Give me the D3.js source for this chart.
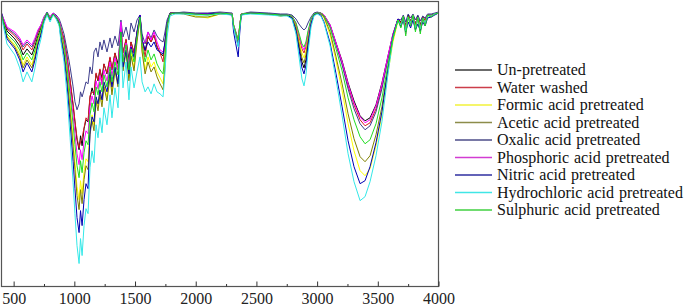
<!DOCTYPE html>
<html>
<head>
<meta charset="utf-8">
<script src="https://cdn.jsdelivr.net/npm/d3@7"></script>
<style>
  html, body { margin: 0; padding: 0; background: #fff; }
  svg { display: block; }
  text { font-family: "Liberation Serif", "Times New Roman", serif; }
</style>
</head>
<body>
<svg id="chart" width="685" height="306"></svg>
<script>
// Wavenumber (cm^-1) sampling grid
const wavenumbers = [400,445,510,550,578,610,650,676,700,725,750,775,800,825,850,875,
890,915,940,965,990,1005,1022,1039,1051,1064,1080,1096,1113,1129,1146,1162,1179,1195,1211,1228,1244,1269,1294,1310,1335,1360,1384,1401,1426,1450,1467,1492,1516,1541,1558,1583,1607,1632,1657,1681,1706,1731,1747,1764,1788,1830,
1900,2000,2100,2200,2300,2312,2330,2350,2362,2375,2450,2600,2700,
2752,2793,2826,2850,2875,2892,2908,2925,2950,2974,3000,
3030,3057,3107,3156,3206,3255,3304,3354,3395,3436,3485,3534,3584,3625,3666,
3690,3710,3730,3750,3770,3790,3810,3830,3850,3870,3890,3910,3940,3970,4000];

// Transmittance (arbitrary units)
const unPretreated = [272,256,248,241,232,238,232,241,251,259,269,274,268,273,270,265,
258,247,229,206,181,165,147,137,151,141,158,167,165,189,199,192,213,206,217,209,223,213,229,217,234,223,258,234,247,227,245,234,254,271,247,236,250,245,252,240,234,231,245,264,274,274,
274,273,273,274,273,261,254,245,260,273,274,273,272,
272,269,258,241,225,219,227,244,264,272,274,
274,272,262,244,226,204,186,171,166,169,182,204,231,253,268,
265,271,261,272,266,272,263,271,262,270,267,272,272,273,274];

const waterWashed = [273,258,251,245,237,243,237,245,254,261,269,274,269,273,271,266,
259,248,230,207,183,166,149,139,145,149,159,169,166,191,195,193,214,207,218,203,223,214,230,218,234,217,259,234,248,220,245,234,255,271,248,230,251,245,252,241,234,225,245,264,274,274,
274,273,273,274,273,262,255,247,261,273,274,273,272,
272,271,263,250,238,234,240,252,267,273,274,
274,272,261,243,224,201,182,167,161,164,178,201,229,252,268,
264,270,260,271,266,272,263,270,261,270,266,272,271,273,274];

const formicAcid = [271,251,242,233,222,230,222,233,246,255,267,273,267,272,269,263,
252,237,213,181,147,125,100,87,106,93,115,128,125,158,172,162,190,181,196,185,204,190,213,196,219,204,252,219,237,209,234,219,247,269,237,217,230,220,225,215,209,203,225,260,273,274,
274,271,269,273,273,261,254,245,260,273,274,273,271,
272,270,261,247,234,229,236,250,266,273,274,
273,269,252,226,196,163,136,116,111,118,141,172,214,245,266,
263,269,257,270,264,271,260,269,258,268,264,271,271,273,274];

const aceticAcid = [272,250,240,230,219,227,219,230,244,254,267,273,267,272,269,263,
251,235,210,176,140,117,91,77,97,83,107,121,117,152,166,156,186,176,192,180,200,186,210,192,216,200,251,216,235,206,231,216,245,269,235,213,225,215,220,210,203,197,220,259,273,274,
273,270,270,273,273,261,253,243,259,273,274,273,271,
272,270,260,244,229,224,232,247,265,272,274,
273,270,255,230,203,173,148,130,125,131,152,180,219,248,267,
263,270,258,271,265,272,261,270,259,269,265,272,271,273,274];

const oxalicAcid = [274,259,253,247,240,245,240,247,256,262,270,275,270,274,272,268,
263,253,237,220,200,185,177,183,195,190,197,205,203,220,213,235,239,230,245,237,247,235,249,239,251,241,267,250,260,247,264,255,267,272,253,243,255,249,257,251,247,245,255,267,274,274,
275,274,274,275,274,260,251,241,258,273,275,274,273,
273,272,268,263,259,257,259,264,270,274,275,
274,271,261,242,222,198,178,163,157,161,175,198,228,251,268,
267,272,265,273,269,273,267,272,266,271,269,273,273,274,275];

const phosphoricAcid = [273,260,255,249,242,247,242,249,257,262,270,274,270,274,271,267,
257,244,225,198,171,153,133,122,137,127,145,156,153,180,191,183,206,198,211,202,217,206,225,211,229,217,265,229,244,221,241,229,252,272,244,245,255,247,255,245,237,235,241,263,273,274,
274,273,273,274,273,262,255,247,261,273,274,273,272,
272,271,264,252,241,237,243,254,267,273,274,
274,272,262,244,225,203,184,170,164,167,181,203,231,253,268,
261,271,253,270,263,272,257,270,255,269,263,272,270,273,274];

const nitricAcid = [274,248,238,227,215,224,215,227,242,252,266,274,267,273,270,264,
248,231,202,164,125,98,69,54,76,61,87,103,98,155,170,165,190,183,197,187,205,195,215,200,220,203,255,220,237,213,240,230,255,272,247,237,245,240,245,237,235,233,245,263,273,274,
274,273,273,274,272,255,243,230,253,272,274,273,272,
272,269,256,238,219,213,222,241,263,272,274,
272,265,244,213,180,146,120,103,106,120,144,175,218,251,268,
260,267,255,265,259,267,257,263,256,265,261,269,270,272,274];

const hydrochloricAcid = [270,243,232,219,205,215,205,219,236,248,264,272,265,272,268,261,
245,225,192,149,104,73,41,23,48,31,61,78,73,119,136,124,162,149,169,154,179,162,192,169,199,179,245,199,225,187,220,199,215,230,205,195,200,193,203,195,193,190,215,250,271,273,
273,272,272,273,272,259,250,240,257,272,273,272,271,
271,268,253,231,208,201,212,234,260,271,273,
271,264,241,207,171,133,105,86,90,105,131,165,213,249,267,
262,270,256,270,264,271,259,269,258,269,264,271,271,273,274];

const sulphuricAcid = [272,253,245,237,227,234,227,237,249,257,268,274,268,273,270,265,
255,242,220,192,162,142,121,109,126,114,134,146,142,172,184,175,200,192,205,195,212,200,220,205,225,212,255,225,242,217,238,225,250,270,242,225,237,227,233,223,217,213,233,262,273,274,
274,273,272,274,273,262,255,247,261,273,274,273,272,
272,271,264,254,243,240,245,256,268,273,274,
274,271,259,238,216,189,167,150,143,147,163,189,222,249,267,
259,271,251,270,261,272,255,270,253,269,261,272,270,273,274];

const seriesNames = ["Un-pretreated","Water washed","Formic acid pretreated","Acetic acid pretreated","Oxalic acid pretreated","Phosphoric acid pretreated","Nitric acid pretreated","Hydrochloric acid pretreated","Sulphuric acid pretreated"];
const seriesValues = [unPretreated, waterWashed, formicAcid, aceticAcid, oxalicAcid, phosphoricAcid, nitricAcid, hydrochloricAcid, sulphuricAcid];
const seriesColors = ["#000000","#d81c24","#ffff00","#808000","#3d3d8c","#ff00ff","#0000b4","#33e8e8","#22dd22"];
const legendColors = ["#3a3a3a","#cc3d4a","#f2f23a","#8c8c4a","#4c4c88","#d23cd2","#2f2fa0","#40e6e6","#40d040"];

const xMajorTicks = [500,1000,1500,2000,2500,3000,3500,4000];
const xMinorTicks = [750,1250,1750,2250,2750,3250,3750];

const svg = d3.select("#chart");
const plotLeft = 1.5, plotRight = 438.5, plotTop = 1.5, plotBottom = 286.5;

const x = d3.scaleLinear().domain([400, 4000]).range([plotLeft, plotRight]);
const y = d3.scaleLinear().domain([0, 275]).range([plotBottom, 12]);

svg.append("rect").attr("width", 685).attr("height", 306).attr("fill", "#fff");

const line = d3.line()
  .x((d, i) => x(wavenumbers[i]))
  .y(d => y(d));

const plot = svg.append("g");
seriesValues.forEach((vals, i) => {
  plot.append("path")
    .datum(vals)
    .attr("d", line)
    .attr("fill", "none")
    .attr("stroke", seriesColors[i])
    .attr("stroke-width", 1)
    .attr("stroke-linejoin", "round");
});

// frame
svg.append("rect")
  .attr("x", plotLeft).attr("y", plotTop)
  .attr("width", plotRight - plotLeft).attr("height", plotBottom - plotTop)
  .attr("fill", "none").attr("stroke", "#555").attr("stroke-width", 1.2);

// axes
const gx = svg.append("g").attr("transform", `translate(0,${plotBottom})`)
  .call(d3.axisBottom(x).tickValues(xMajorTicks).tickSize(-5).tickPadding(6.5).tickFormat(d3.format("d")));
gx.select(".domain").remove();
gx.selectAll(".tick line").attr("stroke", "#333");
gx.selectAll(".tick text")
  .attr("font-size", 16).attr("fill", "#222");

const gm = svg.append("g").attr("transform", `translate(0,${plotBottom})`)
  .call(d3.axisBottom(x).tickValues(xMinorTicks).tickSize(-2.5).tickFormat(""));
gm.select(".domain").remove();
gm.selectAll(".tick line").attr("stroke", "#333");

// legend
const legend = svg.append("g");
seriesNames.forEach((name, i) => {
  const ly = 70 + i * 17.5;
  legend.append("line")
    .attr("x1", 455).attr("x2", 492).attr("y1", ly).attr("y2", ly)
    .attr("stroke", legendColors[i]).attr("stroke-width", 1.4);
  legend.append("text")
    .attr("x", 497).attr("y", ly + 5)
    .attr("font-size", 16).attr("fill", "#111")
    .attr("word-spacing", 1)
    .text(name);
});
</script>
</body>
</html>
